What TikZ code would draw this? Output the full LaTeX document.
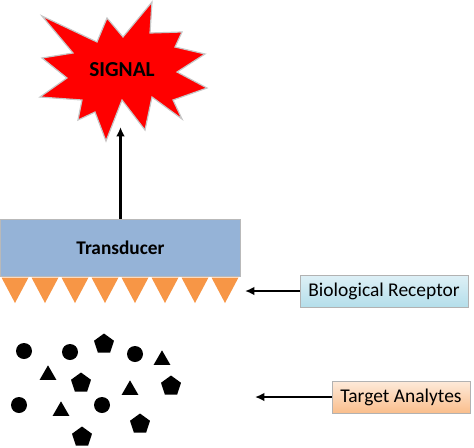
\documentclass[tikz,border=0pt]{standalone}
\usepackage{fontspec}
\setmainfont{Carlito}
\usepackage{tikz}
\usetikzlibrary{shapes.geometric,arrows.meta,shadows}
\definecolor{signalred}{RGB}{255,0,0}
\definecolor{transblue}{RGB}{149,179,215}
\definecolor{receptororange}{RGB}{247,150,70}
\definecolor{biotop}{RGB}{222,240,246}
\definecolor{biobottom}{RGB}{180,222,234}
\definecolor{targettop}{RGB}{253,234,218}
\definecolor{targetbottom}{RGB}{250,190,140}
\tikzset{
arrowline/.style={line width=1.8pt, -{Latex[length=7pt,width=6.5pt]}}, % the black arrows
labelbox/.style={draw=gray!60, line width=0.6pt, inner sep=0pt, font=\fontsize{14.6}{16}\selectfont,
  minimum height=24pt, drop shadow={opacity=0.2, shadow xshift=1pt, shadow yshift=-1pt}},
analyte/.style={fill=black, inner sep=0pt, outer sep=0pt},
}
\tikzset{
    dot/.style={analyte, circle, minimum size=12pt},
    penta/.style={analyte, regular polygon, regular polygon sides=5, minimum size=15.75pt},
    tri/.style={analyte, regular polygon, regular polygon sides=3, minimum size=14.5pt}
}

\begin{document}
\begin{tikzpicture}[x=0.75pt,y=0.75pt,yscale=-1,xscale=1]
\useasboundingbox (0,0) rectangle (474,447);
%Starburst
\draw [fill=signalred, draw=gray!45, line width=0.9pt, line join=miter]
  (42,16) -- (97,42) -- (107,18) -- (123,37) -- (152,2) -- (150,33) -- (182,32) -- (175,47)
  -- (205,54) -- (177,72) -- (207,88) -- (173,100) -- (182,119) -- (152,97) -- (145,130)
  -- (122,100) -- (106,141) -- (95,112) -- (78,120) -- (82,100) -- (40,97) -- (67,78)
  -- (42,58) -- (73,53) -- cycle ;
\node (signal) at (122,70) [font=\fontsize{16}{18}\selectfont\bfseries] {SIGNAL};
\coordinate (sigtip) at (120.5,127);
%Transducer
\node (trans) at (120.5,248) [draw=gray!55, fill=transblue, line width=0.6pt, minimum width=180pt,
  minimum height=43pt, inner sep=0pt, font=\fontsize{14.5}{16}\selectfont\bfseries] {Transducer};
\draw [arrowline] (trans.north) -- (sigtip);
%Receptors
\foreach \i in {0,...,7}
  \fill [receptororange] ({\i*30+1.5},277.5) -- ({\i*30+28.5},277.5) -- ({\i*30+15},303) -- cycle ;
%Labels
\node (bio) at (384,291) [labelbox, top color=biotop, bottom color=biobottom, minimum width=126pt] {Biological Receptor};
\coordinate (recp) at (245,291);
\draw [arrowline] (bio.west) -- (recp);
\node (target) at (401,397) [labelbox, top color=targettop, bottom color=targetbottom, minimum width=103.5pt] {Target Analytes};
\coordinate (anl) at (255,397);
\draw [arrowline] (target.west) -- (anl);
%Analytes
\foreach \x/\y [count=\n] in {24/351, 70/352, 135/354, 19/405, 102/405}
  \node [dot] (c\n) at (\x,\y) {};
\foreach \x/\y [count=\n] in {104/344, 81/383, 171/386, 140/424, 82/437}
  \node [penta] (p\n) at (\x,\y) {};
\foreach \x/\y [count=\n] in {162/360, 48/375, 130/390, 61/411}
  \node [tri] (t\n) at (\x,\y) {};
\end{tikzpicture}
\end{document}
